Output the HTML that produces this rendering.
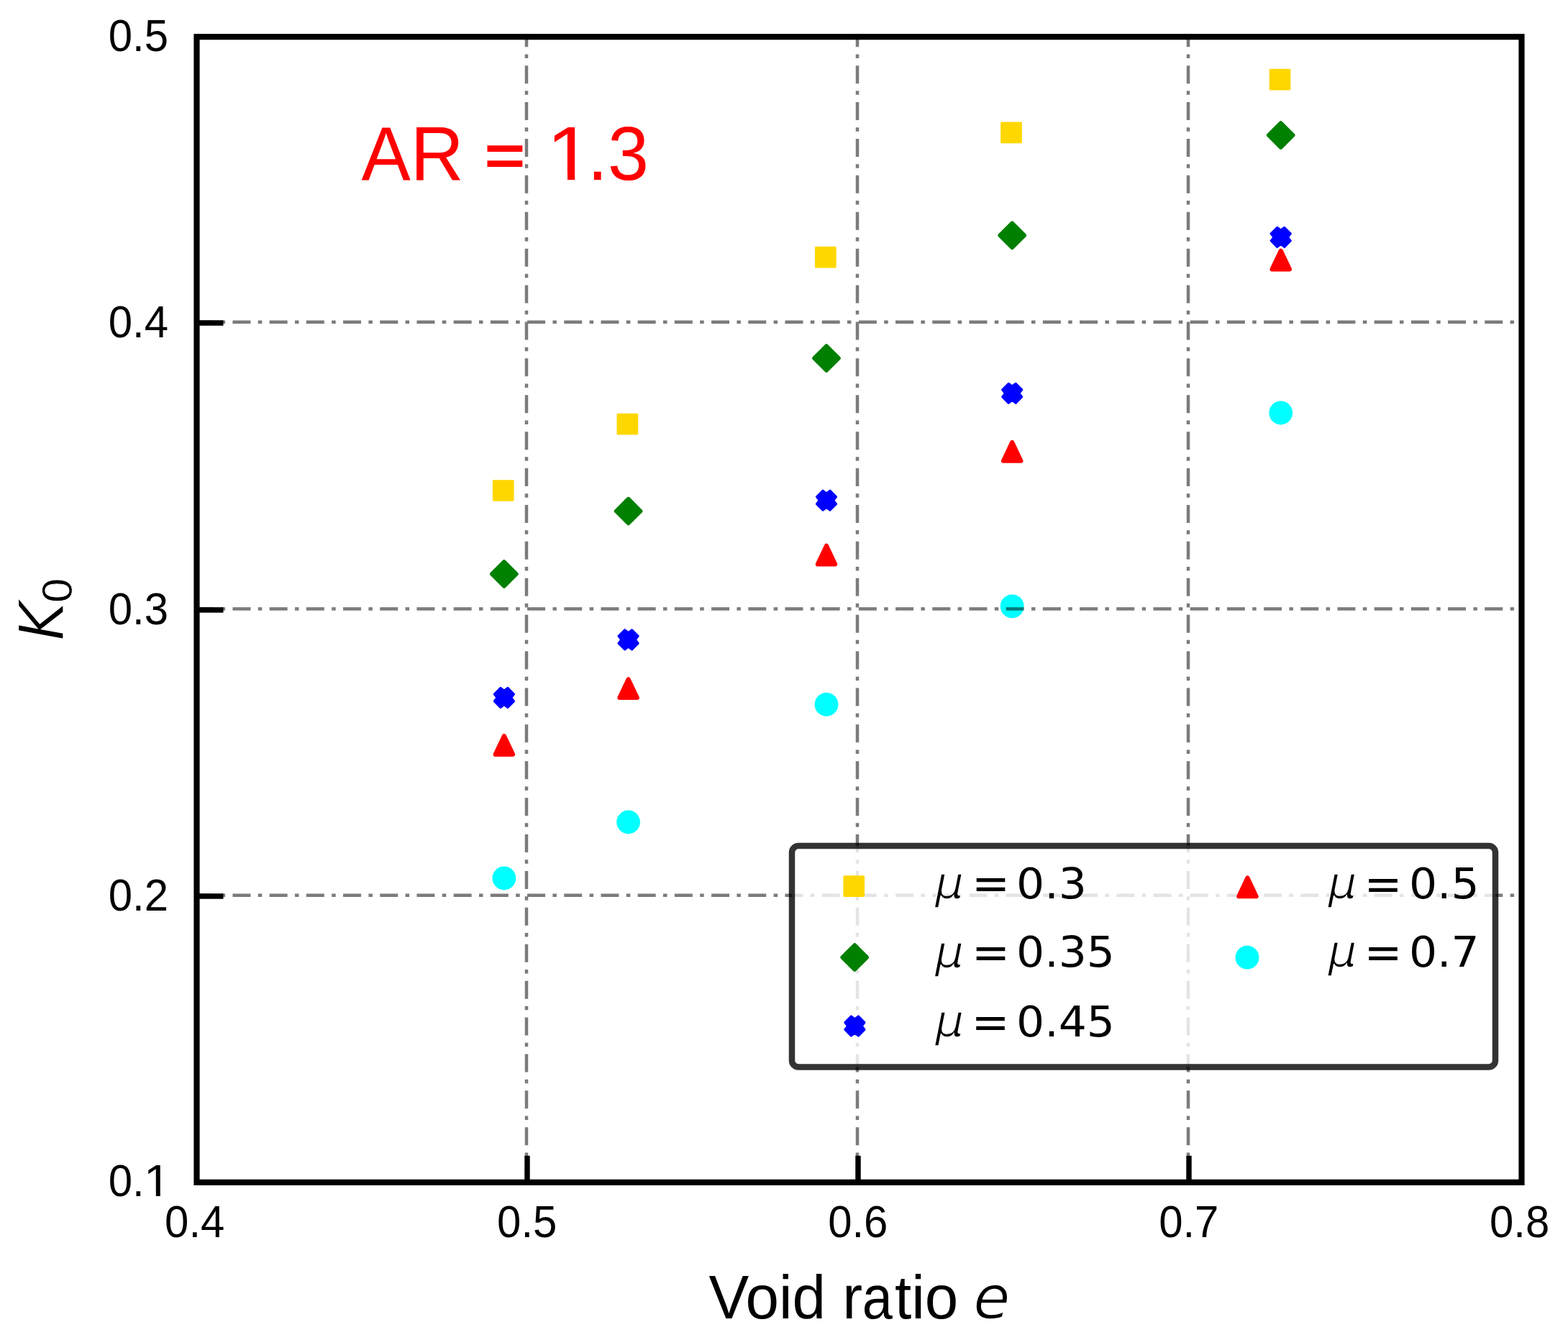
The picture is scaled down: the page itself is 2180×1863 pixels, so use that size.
<!DOCTYPE html><html><head><meta charset="utf-8"><style>html,body{margin:0;padding:0;background:#fff;overflow:hidden}svg{display:block}text{white-space:pre}.g{mix-blend-mode:multiply}</style></head><body>
<div id="w">
<svg width="2180" height="1863" viewBox="0 0 2180 1863">
<rect x="0" y="0" width="2180" height="1863" fill="#fff"/>
<rect x="686.35" y="668.65" width="26.7" height="26.7" fill="#ffd700" stroke="#ffd700" stroke-width="3" stroke-linejoin="round"/>
<path d="M700.9 780.95L717.95 798L700.9 815.05L683.85 798Z" fill="#008000" stroke="#008000" stroke-width="5.5" stroke-linejoin="round"/>
<path d="M695.9 956.4L700.9 960.2L705.9 956.4L714.5 965L710.7 970L714.5 975L705.9 983.6L700.9 979.8L695.9 983.6L687.3 975L691.1 970L687.3 965Z" fill="#0000ff" stroke="#0000ff" stroke-width="3" stroke-linejoin="round"/>
<path d="M700.9 1023.1L713.15 1048.9L688.65 1048.9Z" fill="#ff0000" stroke="#ff0000" stroke-width="6" stroke-linejoin="round"/>
<circle cx="700.9" cy="1221" r="16.4" fill="#00ffff"/>
<rect x="859.05" y="576.35" width="26.7" height="26.7" fill="#ffd700" stroke="#ffd700" stroke-width="3" stroke-linejoin="round"/>
<path d="M873.6 693.55L890.65 710.6L873.6 727.65L856.55 710.6Z" fill="#008000" stroke="#008000" stroke-width="5.5" stroke-linejoin="round"/>
<path d="M868.6 875.8L873.6 879.6L878.6 875.8L887.2 884.4L883.4 889.4L887.2 894.4L878.6 903L873.6 899.2L868.6 903L860 894.4L863.8 889.4L860 884.4Z" fill="#0000ff" stroke="#0000ff" stroke-width="3" stroke-linejoin="round"/>
<path d="M873.6 944.3L885.85 970.1L861.35 970.1Z" fill="#ff0000" stroke="#ff0000" stroke-width="6" stroke-linejoin="round"/>
<circle cx="873.6" cy="1143" r="16.4" fill="#00ffff"/>
<rect x="1134.45" y="344.25" width="26.7" height="26.7" fill="#ffd700" stroke="#ffd700" stroke-width="3" stroke-linejoin="round"/>
<path d="M1149 480.95L1166.05 498L1149 515.05L1131.95 498Z" fill="#008000" stroke="#008000" stroke-width="5.5" stroke-linejoin="round"/>
<path d="M1144 682.1L1149 685.9L1154 682.1L1162.6 690.7L1158.8 695.7L1162.6 700.7L1154 709.3L1149 705.5L1144 709.3L1135.4 700.7L1139.2 695.7L1135.4 690.7Z" fill="#0000ff" stroke="#0000ff" stroke-width="3" stroke-linejoin="round"/>
<path d="M1149 758.7L1161.25 784.5L1136.75 784.5Z" fill="#ff0000" stroke="#ff0000" stroke-width="6" stroke-linejoin="round"/>
<circle cx="1149" cy="979.4" r="16.4" fill="#00ffff"/>
<rect x="1392.65" y="171.05" width="26.7" height="26.7" fill="#ffd700" stroke="#ffd700" stroke-width="3" stroke-linejoin="round"/>
<path d="M1407.2 310.25L1424.25 327.3L1407.2 344.35L1390.15 327.3Z" fill="#008000" stroke="#008000" stroke-width="5.5" stroke-linejoin="round"/>
<path d="M1402.2 533.2L1407.2 537L1412.2 533.2L1420.8 541.8L1417 546.8L1420.8 551.8L1412.2 560.4L1407.2 556.6L1402.2 560.4L1393.6 551.8L1397.4 546.8L1393.6 541.8Z" fill="#0000ff" stroke="#0000ff" stroke-width="3" stroke-linejoin="round"/>
<path d="M1407.2 614.9L1419.45 640.7L1394.95 640.7Z" fill="#ff0000" stroke="#ff0000" stroke-width="6" stroke-linejoin="round"/>
<circle cx="1407.2" cy="842.9" r="16.4" fill="#00ffff"/>
<rect x="1766.15" y="97.35" width="26.7" height="26.7" fill="#ffd700" stroke="#ffd700" stroke-width="3" stroke-linejoin="round"/>
<path d="M1780.7 170.85L1797.75 187.9L1780.7 204.95L1763.65 187.9Z" fill="#008000" stroke="#008000" stroke-width="5.5" stroke-linejoin="round"/>
<path d="M1775.7 316.2L1780.7 320L1785.7 316.2L1794.3 324.8L1790.5 329.8L1794.3 334.8L1785.7 343.4L1780.7 339.6L1775.7 343.4L1767.1 334.8L1770.9 329.8L1767.1 324.8Z" fill="#0000ff" stroke="#0000ff" stroke-width="3" stroke-linejoin="round"/>
<path d="M1780.7 348.6L1792.95 374.4L1768.45 374.4Z" fill="#ff0000" stroke="#ff0000" stroke-width="6" stroke-linejoin="round"/>
<circle cx="1780.7" cy="574" r="16.4" fill="#00ffff"/>
<g class="g" stroke="#7b7b7b" stroke-width="4.5" fill="none">
<path d="M272.25 447.8H2115" stroke-dasharray="25 10.35 5.5 10.35"/>
<path d="M272.25 846.5H2115" stroke-dasharray="25 10.35 5.5 10.35"/>
<path d="M272.25 1244.8H2115" stroke-dasharray="25 10.35 5.5 10.35"/>
<path d="M732 1643.15V51" stroke-dasharray="25 10.2 5.5 10.2"/>
<path d="M1192 1643.15V51" stroke-dasharray="25 10.2 5.5 10.2"/>
<path d="M1652 1643.15V51" stroke-dasharray="25 10.2 5.5 10.2"/>
</g>
<rect x="273.5" y="51.2" width="1842" height="1592.6" fill="none" stroke="#000" stroke-width="8.2"/>
<path d="M733 1643.8V1606.8" stroke="#000" stroke-width="7.4"/>
<path d="M1193 1643.8V1606.8" stroke="#000" stroke-width="7.4"/>
<path d="M1653 1643.8V1606.8" stroke="#000" stroke-width="7.4"/>
<path d="M273.5 449H310.5" stroke="#000" stroke-width="7.4"/>
<path d="M273.5 848H310.5" stroke="#000" stroke-width="7.4"/>
<path d="M273.5 1246H310.5" stroke="#000" stroke-width="7.4"/>
<rect x="1101" y="1176" width="978" height="307.4" rx="9" fill="#fff" fill-opacity="0.8" stroke="#000" stroke-opacity="0.8" stroke-width="8.5"/>
<rect x="1173.85" y="1218.85" width="26.7" height="26.7" fill="#ffd700" stroke="#ffd700" stroke-width="3" stroke-linejoin="round"/>
<path d="M1188.2 1313.95L1205.25 1331L1188.2 1348.05L1171.15 1331Z" fill="#008000" stroke="#008000" stroke-width="5.5" stroke-linejoin="round"/>
<path d="M1183.4 1412.9L1188.4 1416.7L1193.4 1412.9L1202 1421.5L1198.2 1426.5L1202 1431.5L1193.4 1440.1L1188.4 1436.3L1183.4 1440.1L1174.8 1431.5L1178.6 1426.5L1174.8 1421.5Z" fill="#0000ff" stroke="#0000ff" stroke-width="3" stroke-linejoin="round"/>
<path d="M1734.4 1220.4L1746.65 1246.2L1722.15 1246.2Z" fill="#ff0000" stroke="#ff0000" stroke-width="6" stroke-linejoin="round"/>
<circle cx="1734" cy="1331.2" r="16.4" fill="#00ffff"/>
<text font-family="'Liberation Sans', Arial, sans-serif" font-size="62.4" fill="#000"><tspan x="150.74" y="71.2" textLength="83.27" lengthAdjust="spacingAndGlyphs">0.5</tspan></text>
<text font-family="'Liberation Sans', Arial, sans-serif" font-size="62.4" fill="#000"><tspan x="150.74" y="469.3" textLength="83.27" lengthAdjust="spacingAndGlyphs">0.4</tspan></text>
<text font-family="'Liberation Sans', Arial, sans-serif" font-size="62.4" fill="#000"><tspan x="150.74" y="868.3" textLength="83.27" lengthAdjust="spacingAndGlyphs">0.3</tspan></text>
<text font-family="'Liberation Sans', Arial, sans-serif" font-size="62.4" fill="#000"><tspan x="150.74" y="1266.2" textLength="83.27" lengthAdjust="spacingAndGlyphs">0.2</tspan></text>
<clipPath id="c1" clipPathUnits="userSpaceOnUse"><path clip-rule="evenodd" d="M-3000 -3000H5000V5000H-3000ZM203.74 1657.74H216.81V1664.9H203.74ZM222.79 1657.74H235.33V1664.9H222.79Z"/></clipPath>
<text clip-path="url(#c1)" font-family="'Liberation Sans', Arial, sans-serif" font-size="62.4" fill="#000"><tspan x="150.73" y="1663.4" textLength="49.96" lengthAdjust="spacingAndGlyphs">0.</tspan><tspan x="199.79" y="1663.4" textLength="37.65" lengthAdjust="spacingAndGlyphs">1</tspan></text>
<text font-family="'Liberation Sans', Arial, sans-serif" font-size="62.4" fill="#000"><tspan x="229.07" y="1719.8" textLength="83.27" lengthAdjust="spacingAndGlyphs">0.4</tspan></text>
<text font-family="'Liberation Sans', Arial, sans-serif" font-size="62.4" fill="#000"><tspan x="691.07" y="1719.8" textLength="83.27" lengthAdjust="spacingAndGlyphs">0.5</tspan></text>
<text font-family="'Liberation Sans', Arial, sans-serif" font-size="62.4" fill="#000"><tspan x="1151.17" y="1719.8" textLength="83.27" lengthAdjust="spacingAndGlyphs">0.6</tspan></text>
<text font-family="'Liberation Sans', Arial, sans-serif" font-size="62.4" fill="#000"><tspan x="1611.17" y="1719.8" textLength="83.27" lengthAdjust="spacingAndGlyphs">0.7</tspan></text>
<text font-family="'Liberation Sans', Arial, sans-serif" font-size="62.4" fill="#000"><tspan x="2070.97" y="1719.8" textLength="83.27" lengthAdjust="spacingAndGlyphs">0.8</tspan></text>
<text font-family="'Liberation Sans', Arial, sans-serif" font-size="85.6" fill="#000"><tspan x="985.4" y="1833.3" textLength="213.73" lengthAdjust="spacingAndGlyphs">Void r</tspan><tspan x="1198.8" y="1833.3" textLength="42.13" lengthAdjust="spacingAndGlyphs">a</tspan><tspan x="1244" y="1833.3" textLength="111.50" lengthAdjust="spacingAndGlyphs">tio </tspan><tspan x="1353.2" y="1832.9" font-family="'DejaVu Sans', 'Liberation Sans', sans-serif" font-size="83" font-style="italic" stroke="#fff" stroke-width="1.3">e</tspan></text>
<clipPath id="c2" clipPathUnits="userSpaceOnUse"><path clip-rule="evenodd" d="M-3000 -3000H5000V5000H-3000ZM767.48 241.08H788.98V251.5H767.48ZM799.22 241.08H819.82V251.5H799.22Z"/></clipPath>
<text clip-path="url(#c2)" font-family="'Liberation Sans', Arial, sans-serif" font-size="106" fill="#ff0000"><tspan x="502.5" y="250" textLength="170.87" lengthAdjust="spacingAndGlyphs">AR </tspan><tspan x="669.24" y="250" font-family="'DejaVu Sans', 'Liberation Sans', sans-serif" textLength="90.11" lengthAdjust="spacingAndGlyphs">= </tspan><tspan x="759.86" y="250" textLength="64.42" lengthAdjust="spacingAndGlyphs">1</tspan><tspan x="816.6" y="250" textLength="85.49" lengthAdjust="spacingAndGlyphs">.3</tspan></text>
<text transform="translate(88.2 890.6) rotate(-90)" font-family="'DejaVu Sans', 'Liberation Sans', sans-serif" font-size="84.6" font-style="italic" fill="#000"><tspan x="0" y="0" textLength="53.49" lengthAdjust="spacingAndGlyphs" stroke="#fff" stroke-width="1.2">K</tspan><tspan x="50.8" y="10.9" font-size="55.2" font-style="normal" textLength="37.58" lengthAdjust="spacingAndGlyphs" stroke="#fff" stroke-width="0.8">0</tspan></text>
<text font-family="'DejaVu Sans', 'Liberation Sans', sans-serif" font-size="63" font-style="italic" fill="#000"><tspan x="1299.93" y="1248.8" stroke="#fff" stroke-width="1.4">μ </tspan><tspan x="1351" y="1250.3" font-size="62" font-style="normal" textLength="73.11" lengthAdjust="spacingAndGlyphs">= </tspan><tspan x="1413.05" y="1248.5" font-size="58" font-style="normal" textLength="97.79" lengthAdjust="spacingAndGlyphs">0.3</tspan></text>
<text font-family="'DejaVu Sans', 'Liberation Sans', sans-serif" font-size="63" font-style="italic" fill="#000"><tspan x="1299.93" y="1344.5" stroke="#fff" stroke-width="1.4">μ </tspan><tspan x="1351" y="1346.4" font-size="62" font-style="normal" textLength="73.11" lengthAdjust="spacingAndGlyphs">= </tspan><tspan x="1413.05" y="1344.2" font-size="58" font-style="normal" textLength="136.89" lengthAdjust="spacingAndGlyphs">0.35</tspan></text>
<text font-family="'DejaVu Sans', 'Liberation Sans', sans-serif" font-size="63" font-style="italic" fill="#000"><tspan x="1300.13" y="1441.3" stroke="#fff" stroke-width="1.4">μ </tspan><tspan x="1350.4" y="1442.8" font-size="62" font-style="normal" textLength="73.11" lengthAdjust="spacingAndGlyphs">= </tspan><tspan x="1413.05" y="1441" font-size="58" font-style="normal" textLength="136.89" lengthAdjust="spacingAndGlyphs">0.45</tspan></text>
<text font-family="'DejaVu Sans', 'Liberation Sans', sans-serif" font-size="63" font-style="italic" fill="#000"><tspan x="1846.43" y="1249.1" stroke="#fff" stroke-width="1.4">μ </tspan><tspan x="1896.4" y="1250.8" font-size="62" font-style="normal" textLength="73.11" lengthAdjust="spacingAndGlyphs">= </tspan><tspan x="1958.95" y="1248.8" font-size="58" font-style="normal" textLength="97.79" lengthAdjust="spacingAndGlyphs">0.5</tspan></text>
<text font-family="'DejaVu Sans', 'Liberation Sans', sans-serif" font-size="63" font-style="italic" fill="#000"><tspan x="1846.43" y="1344.3" stroke="#fff" stroke-width="1.4">μ </tspan><tspan x="1896.4" y="1346.4" font-size="62" font-style="normal" textLength="73.11" lengthAdjust="spacingAndGlyphs">= </tspan><tspan x="1958.95" y="1344" font-size="58" font-style="normal" textLength="97.79" lengthAdjust="spacingAndGlyphs">0.7</tspan></text>
</svg></div></body></html>
